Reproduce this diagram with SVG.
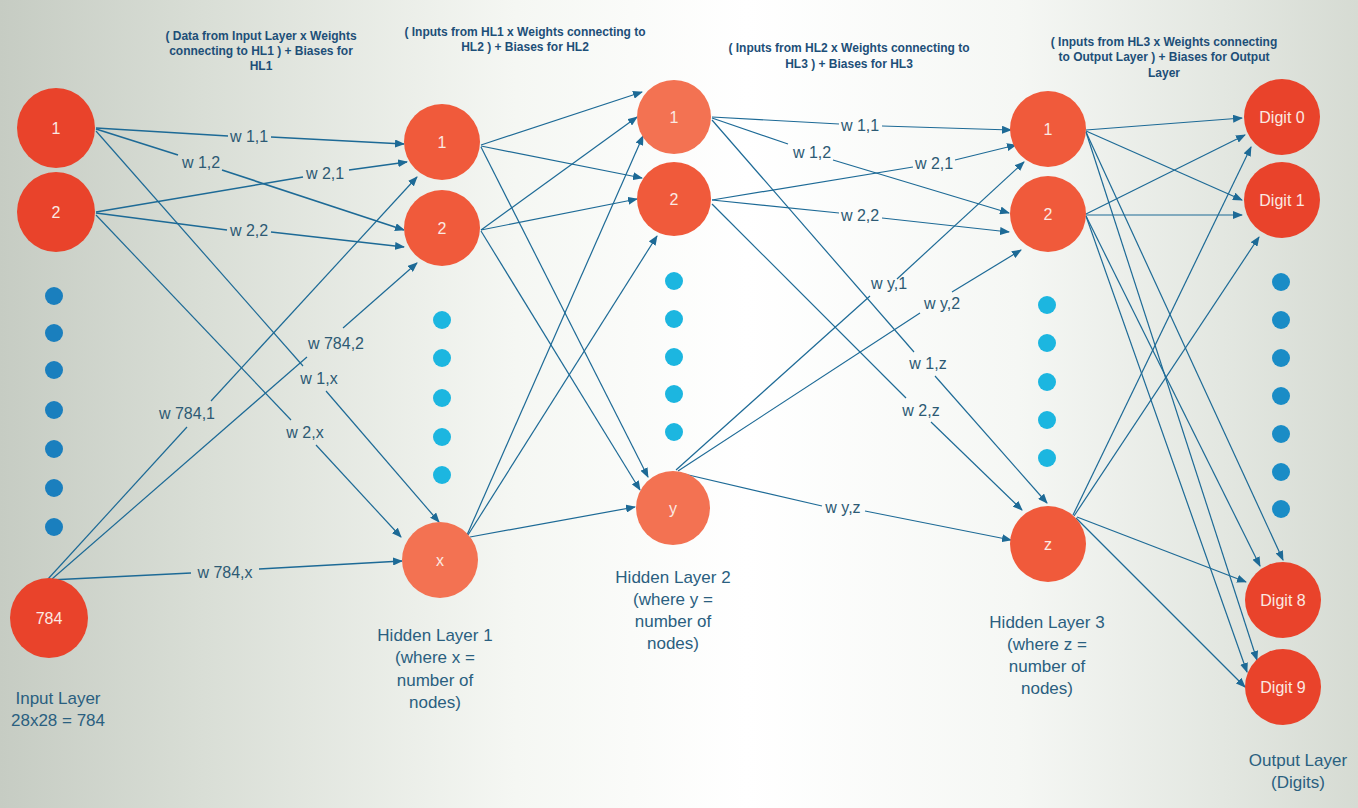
<svg xmlns="http://www.w3.org/2000/svg" width="1358" height="808" viewBox="0 0 1358 808">
<defs>
<linearGradient id="bg" x1="0" y1="0" x2="1" y2="0">
<stop offset="0" stop-color="#c6ccc3"/>
<stop offset="0.15" stop-color="#d9ded6"/>
<stop offset="0.38" stop-color="#f5f7f3"/>
<stop offset="0.55" stop-color="#ffffff"/>
<stop offset="0.75" stop-color="#f5f7f4"/>
<stop offset="0.9" stop-color="#e3e7e1"/>
<stop offset="1" stop-color="#d6dbd3"/>
</linearGradient>
<marker id="arr" markerUnits="userSpaceOnUse" markerWidth="10" markerHeight="8" refX="9" refY="4" orient="auto">
<path d="M0,0 L10,4 L0,8 z" fill="#1d6a96"/>
</marker>
<style>
.edge{stroke:#1d6a96;stroke-width:1.2;fill:none}
.edge.thick{stroke-width:1.6}
.edge.arrow{marker-end:url(#arr)}
.red{fill:#e9432b}
.org{fill:#f05a3b}
.lt{fill:#f37252}
.dotA{fill:#1a7fbe}
.dotB{fill:#1cb6e0}
.dotC{fill:#1a8cc6}
.nl{font-family:"Liberation Sans",Arial,sans-serif;font-size:16px;fill:#fbe9e2;text-anchor:middle}
.wl{font-family:"Liberation Sans",Arial,sans-serif;font-size:16px;fill:#2d5a74;text-anchor:middle}
.hd{font-family:"Liberation Sans",Arial,sans-serif;font-size:12px;font-weight:bold;fill:#1d4f78;text-anchor:middle}
.ll{font-family:"Liberation Sans",Arial,sans-serif;font-size:17px;fill:#2a5f80;text-anchor:middle}
</style>
</defs>
<rect width="1358" height="808" fill="url(#bg)"/>

<g id="headings">
<text class="hd" x="261" y="40">( Data from Input Layer x Weights</text>
<text class="hd" x="261" y="55">connecting to HL1 ) + Biases for</text>
<text class="hd" x="261" y="70">HL1</text>
<text class="hd" x="525" y="36">( Inputs from HL1 x Weights connecting to</text>
<text class="hd" x="525" y="51">HL2 ) + Biases for HL2</text>
<text class="hd" x="849" y="52">( Inputs from HL2 x Weights connecting to</text>
<text class="hd" x="849" y="68">HL3 ) + Biases for HL3</text>
<text class="hd" x="1164" y="46">( Inputs from HL3 x Weights connecting</text>
<text class="hd" x="1164" y="61">to Output Layer ) + Biases for Output</text>
<text class="hd" x="1164" y="77">Layer</text>
</g>

<g id="connectors">
<!-- input -> HL1 -->
<path class="edge thick" d="M96,128 L228,136"/>
<path class="edge thick arrow" d="M271,137 L404,144"/>
<path class="edge thick" d="M96,129 L178,155"/>
<path class="edge thick arrow" d="M222,170 L404,230"/>
<path class="edge thick" d="M96,212 L303,177"/>
<path class="edge thick arrow" d="M349,170 L407,162"/>
<path class="edge thick" d="M96,213 L227,230"/>
<path class="edge thick arrow" d="M271,232 L404,247"/>
<path class="edge" d="M96,131 L303,366"/>
<path class="edge arrow" d="M326,391 L439,522"/>
<path class="edge" d="M96,215 L291,420"/>
<path class="edge arrow" d="M316,445 L401,537"/>
<path class="edge" d="M48,579 L187,427"/>
<path class="edge arrow" d="M211,401 L417,177"/>
<path class="edge" d="M52,579 L307,357"/>
<path class="edge arrow" d="M343,328 L417,263"/>
<path class="edge thick" d="M50,580 L191,573"/>
<path class="edge thick arrow" d="M259,569 L402,561"/>
<!-- HL1 -> HL2 -->
<path class="edge arrow" d="M481,145 L642,92"/>
<path class="edge arrow" d="M481,146 L642,178"/>
<path class="edge arrow" d="M481,147 L648,477"/>
<path class="edge arrow" d="M481,230 L637,117"/>
<path class="edge arrow" d="M481,230 L637,199"/>
<path class="edge arrow" d="M481,231 L640,490"/>
<path class="edge arrow" d="M467,535 L643,136"/>
<path class="edge arrow" d="M468,535 L657,236"/>
<path class="edge arrow" d="M470,537 L635,507"/>
<!-- HL2 -> HL3 -->
<path class="edge" d="M712,117 L839,124"/>
<path class="edge arrow" d="M882,126 L1011,130"/>
<path class="edge" d="M712,118 L788,144"/>
<path class="edge arrow" d="M833,160 L1009,213"/>
<path class="edge" d="M712,200 L913,167"/>
<path class="edge arrow" d="M955,160 L1016,145"/>
<path class="edge" d="M712,200 L839,213"/>
<path class="edge arrow" d="M882,218 L1009,232"/>
<path class="edge" d="M712,120 L914,352"/>
<path class="edge arrow" d="M935,376 L1047,503"/>
<path class="edge" d="M712,204 L906,398"/>
<path class="edge arrow" d="M931,422 L1022,510"/>
<path class="edge" d="M676,470 L870,296"/>
<path class="edge arrow" d="M897,279 L1024,162"/>
<path class="edge" d="M678,471 L920,313"/>
<path class="edge arrow" d="M952,292 L1021,250"/>
<path class="edge" d="M680,473 L822,506"/>
<path class="edge arrow" d="M865,511 L1011,540"/>
<!-- HL3 -> output -->
<path class="edge arrow" d="M1086,130 L1242,118"/>
<path class="edge arrow" d="M1086,131 L1242,200"/>
<path class="edge arrow" d="M1086,132 L1283,560"/>
<path class="edge arrow" d="M1086,132 L1257,660"/>
<path class="edge arrow" d="M1086,214 L1245,135"/>
<path class="edge arrow" d="M1086,215 L1242,215"/>
<path class="edge arrow" d="M1086,216 L1260,566"/>
<path class="edge arrow" d="M1086,216 L1247,672"/>
<path class="edge arrow" d="M1073,515 L1251,147"/>
<path class="edge arrow" d="M1074,516 L1259,237"/>
<path class="edge arrow" d="M1077,517 L1246,582"/>
<path class="edge arrow" d="M1076,518 L1245,687"/>
</g>

<g id="weight-labels">
<text class="wl" x="249" y="142">w 1,1</text>
<text class="wl" x="201" y="168">w 1,2</text>
<text class="wl" x="325" y="179">w 2,1</text>
<text class="wl" x="249" y="236">w 2,2</text>
<text class="wl" x="319" y="384">w 1,x</text>
<text class="wl" x="305" y="438">w 2,x</text>
<text class="wl" x="187" y="419">w 784,1</text>
<text class="wl" x="336" y="349">w 784,2</text>
<text class="wl" x="225" y="578">w 784,x</text>
<text class="wl" x="860" y="131">w 1,1</text>
<text class="wl" x="812" y="158">w 1,2</text>
<text class="wl" x="934" y="169">w 2,1</text>
<text class="wl" x="860" y="221">w 2,2</text>
<text class="wl" x="928" y="369">w 1,z</text>
<text class="wl" x="921" y="416">w 2,z</text>
<text class="wl" x="889" y="289">w y,1</text>
<text class="wl" x="942" y="309">w y,2</text>
<text class="wl" x="843" y="513">w y,z</text>
</g>

<g id="input-layer">
<g id="in-1"><ellipse class="red" cx="56" cy="128" rx="39" ry="40"/><text class="nl" x="56" y="134">1</text></g>
<g id="in-2"><ellipse class="red" cx="56" cy="212" rx="39" ry="40"/><text class="nl" x="56" y="218">2</text></g>
<g id="in-dots">
<circle class="dotA" cx="54" cy="296" r="9"/><circle class="dotA" cx="54" cy="333" r="9"/><circle class="dotA" cx="54" cy="370" r="9"/><circle class="dotA" cx="54" cy="410" r="9"/><circle class="dotA" cx="54" cy="449" r="9"/><circle class="dotA" cx="54" cy="488" r="9"/><circle class="dotA" cx="54" cy="527" r="9"/>
</g>
<g id="in-784"><ellipse class="red" cx="49" cy="618" rx="39" ry="40"/><text class="nl" x="49" y="624">784</text></g>
<text class="ll" x="58" y="704">Input Layer</text>
<text class="ll" x="58" y="726">28x28 = 784</text>
</g>

<g id="hidden-layer-1">
<g id="h1-1"><circle class="org" cx="442" cy="142" r="38"/><text class="nl" x="442" y="148">1</text></g>
<g id="h1-2"><circle class="org" cx="442" cy="228" r="38"/><text class="nl" x="442" y="234">2</text></g>
<g id="h1-dots">
<circle class="dotB" cx="442" cy="320" r="9"/><circle class="dotB" cx="442" cy="358" r="9"/><circle class="dotB" cx="442" cy="398" r="9"/><circle class="dotB" cx="442" cy="437" r="9"/><circle class="dotB" cx="442" cy="475" r="9"/>
</g>
<g id="h1-x"><circle class="lt" cx="440" cy="560" r="38"/><text class="nl" x="440" y="566">x</text></g>
<text class="ll" x="435" y="641">Hidden Layer 1</text>
<text class="ll" x="435" y="663">(where x =</text>
<text class="ll" x="435" y="686">number of</text>
<text class="ll" x="435" y="708">nodes)</text>
</g>

<g id="hidden-layer-2">
<g id="h2-1"><circle class="lt" cx="674" cy="117" r="37"/><text class="nl" x="674" y="123">1</text></g>
<g id="h2-2"><circle class="org" cx="674" cy="199" r="37"/><text class="nl" x="674" y="205">2</text></g>
<g id="h2-dots">
<circle class="dotB" cx="674" cy="281" r="9"/><circle class="dotB" cx="674" cy="319" r="9"/><circle class="dotB" cx="674" cy="357" r="9"/><circle class="dotB" cx="674" cy="394" r="9"/><circle class="dotB" cx="674" cy="432" r="9"/>
</g>
<g id="h2-y"><circle class="lt" cx="673" cy="508" r="37"/><text class="nl" x="673" y="514">y</text></g>
<text class="ll" x="673" y="583">Hidden Layer 2</text>
<text class="ll" x="673" y="605">(where y =</text>
<text class="ll" x="673" y="627">number of</text>
<text class="ll" x="673" y="649">nodes)</text>
</g>

<g id="hidden-layer-3">
<g id="h3-1"><circle class="org" cx="1048" cy="129" r="38"/><text class="nl" x="1048" y="135">1</text></g>
<g id="h3-2"><circle class="org" cx="1048" cy="214" r="38"/><text class="nl" x="1048" y="220">2</text></g>
<g id="h3-dots">
<circle class="dotB" cx="1047" cy="305" r="9"/><circle class="dotB" cx="1047" cy="343" r="9"/><circle class="dotB" cx="1047" cy="382" r="9"/><circle class="dotB" cx="1047" cy="420" r="9"/><circle class="dotB" cx="1047" cy="458" r="9"/>
</g>
<g id="h3-z"><circle class="org" cx="1048" cy="544" r="38"/><text class="nl" x="1048" y="550">z</text></g>
<text class="ll" x="1047" y="628">Hidden Layer 3</text>
<text class="ll" x="1047" y="650">(where z =</text>
<text class="ll" x="1047" y="672">number of</text>
<text class="ll" x="1047" y="694">nodes)</text>
</g>

<g id="output-layer">
<g id="out-0"><circle class="red" cx="1282" cy="117" r="38"/><text class="nl" x="1282" y="123">Digit 0</text></g>
<g id="out-1"><circle class="red" cx="1282" cy="200" r="38"/><text class="nl" x="1282" y="206">Digit 1</text></g>
<g id="out-dots">
<circle class="dotC" cx="1281" cy="282" r="9"/><circle class="dotC" cx="1281" cy="320" r="9"/><circle class="dotC" cx="1281" cy="358" r="9"/><circle class="dotC" cx="1281" cy="396" r="9"/><circle class="dotC" cx="1281" cy="434" r="9"/><circle class="dotC" cx="1281" cy="472" r="9"/><circle class="dotC" cx="1281" cy="509" r="9"/>
</g>
<g id="out-8"><circle class="red" cx="1283" cy="600" r="38"/><text class="nl" x="1283" y="606">Digit 8</text></g>
<g id="out-9"><circle class="red" cx="1283" cy="687" r="38"/><text class="nl" x="1283" y="693">Digit 9</text></g>
<text class="ll" x="1298" y="766">Output Layer</text>
<text class="ll" x="1298" y="788">(Digits)</text>
</g>
</svg>
